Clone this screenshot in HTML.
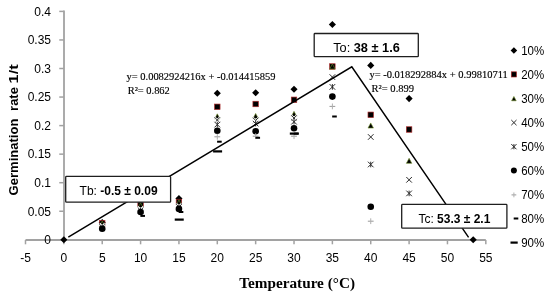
<!DOCTYPE html><html><head><meta charset="utf-8"><style>
html,body{margin:0;padding:0;background:#fff;width:550px;height:294px;overflow:hidden}
svg{display:block}
.t{font-family:"Liberation Sans",sans-serif;font-size:12px;fill:#000}
.eq{font-family:"Liberation Serif",serif;font-size:10.4px;fill:#000;stroke:#000;stroke-width:0.15px}
</style></head><body>
<svg width="550" height="294" viewBox="0 0 550 294">
<line x1="64" y1="10.6" x2="64" y2="240" stroke="#a2a2a2" stroke-width="1.8"/>
<line x1="25.5" y1="240" x2="485.82" y2="240" stroke="#a2a2a2" stroke-width="1.8"/>
<line x1="59.26" y1="239.80" x2="63.86" y2="239.80" stroke="#a2a2a2" stroke-width="1.5"/>
<text class="t" x="51" y="244.10" text-anchor="end">0</text>
<line x1="59.26" y1="211.25" x2="63.86" y2="211.25" stroke="#a2a2a2" stroke-width="1.5"/>
<text class="t" x="51" y="215.55" text-anchor="end">0.05</text>
<line x1="59.26" y1="182.70" x2="63.86" y2="182.70" stroke="#a2a2a2" stroke-width="1.5"/>
<text class="t" x="51" y="187.00" text-anchor="end">0.1</text>
<line x1="59.26" y1="154.15" x2="63.86" y2="154.15" stroke="#a2a2a2" stroke-width="1.5"/>
<text class="t" x="51" y="158.45" text-anchor="end">0.15</text>
<line x1="59.26" y1="125.60" x2="63.86" y2="125.60" stroke="#a2a2a2" stroke-width="1.5"/>
<text class="t" x="51" y="129.90" text-anchor="end">0.2</text>
<line x1="59.26" y1="97.05" x2="63.86" y2="97.05" stroke="#a2a2a2" stroke-width="1.5"/>
<text class="t" x="51" y="101.35" text-anchor="end">0.25</text>
<line x1="59.26" y1="68.50" x2="63.86" y2="68.50" stroke="#a2a2a2" stroke-width="1.5"/>
<text class="t" x="51" y="72.80" text-anchor="end">0.3</text>
<line x1="59.26" y1="39.95" x2="63.86" y2="39.95" stroke="#a2a2a2" stroke-width="1.5"/>
<text class="t" x="51" y="44.25" text-anchor="end">0.35</text>
<line x1="59.26" y1="11.40" x2="63.86" y2="11.40" stroke="#a2a2a2" stroke-width="1.5"/>
<text class="t" x="51" y="15.70" text-anchor="end">0.4</text>
<line x1="25.50" y1="240" x2="25.50" y2="244.3" stroke="#a2a2a2" stroke-width="1.5"/>
<text class="t" x="25.50" y="261.6" text-anchor="middle">-5</text>
<line x1="63.86" y1="240" x2="63.86" y2="244.3" stroke="#a2a2a2" stroke-width="1.5"/>
<text class="t" x="63.86" y="261.6" text-anchor="middle">0</text>
<line x1="102.22" y1="240" x2="102.22" y2="244.3" stroke="#a2a2a2" stroke-width="1.5"/>
<text class="t" x="102.22" y="261.6" text-anchor="middle">5</text>
<line x1="140.58" y1="240" x2="140.58" y2="244.3" stroke="#a2a2a2" stroke-width="1.5"/>
<text class="t" x="140.58" y="261.6" text-anchor="middle">10</text>
<line x1="178.94" y1="240" x2="178.94" y2="244.3" stroke="#a2a2a2" stroke-width="1.5"/>
<text class="t" x="178.94" y="261.6" text-anchor="middle">15</text>
<line x1="217.30" y1="240" x2="217.30" y2="244.3" stroke="#a2a2a2" stroke-width="1.5"/>
<text class="t" x="217.30" y="261.6" text-anchor="middle">20</text>
<line x1="255.66" y1="240" x2="255.66" y2="244.3" stroke="#a2a2a2" stroke-width="1.5"/>
<text class="t" x="255.66" y="261.6" text-anchor="middle">25</text>
<line x1="294.02" y1="240" x2="294.02" y2="244.3" stroke="#a2a2a2" stroke-width="1.5"/>
<text class="t" x="294.02" y="261.6" text-anchor="middle">30</text>
<line x1="332.38" y1="240" x2="332.38" y2="244.3" stroke="#a2a2a2" stroke-width="1.5"/>
<text class="t" x="332.38" y="261.6" text-anchor="middle">35</text>
<line x1="370.74" y1="240" x2="370.74" y2="244.3" stroke="#a2a2a2" stroke-width="1.5"/>
<text class="t" x="370.74" y="261.6" text-anchor="middle">40</text>
<line x1="409.10" y1="240" x2="409.10" y2="244.3" stroke="#a2a2a2" stroke-width="1.5"/>
<text class="t" x="409.10" y="261.6" text-anchor="middle">45</text>
<line x1="447.46" y1="240" x2="447.46" y2="244.3" stroke="#a2a2a2" stroke-width="1.5"/>
<text class="t" x="447.46" y="261.6" text-anchor="middle">50</text>
<line x1="485.82" y1="240" x2="485.82" y2="244.3" stroke="#a2a2a2" stroke-width="1.5"/>
<text class="t" x="485.82" y="261.6" text-anchor="middle">55</text>
<path d="M102.22,219.05L105.77,222.60L102.22,226.15L98.67,222.60Z" fill="#000"/>
<path d="M140.58,186.45L144.13,190.00L140.58,193.55L137.03,190.00Z" fill="#000"/>
<path d="M178.94,194.95L182.49,198.50L178.94,202.05L175.39,198.50Z" fill="#000"/>
<path d="M217.30,89.65L220.85,93.20L217.30,96.75L213.75,93.20Z" fill="#000"/>
<path d="M255.66,89.25L259.21,92.80L255.66,96.35L252.11,92.80Z" fill="#000"/>
<path d="M294.02,85.65L297.57,89.20L294.02,92.75L290.47,89.20Z" fill="#000"/>
<path d="M332.38,20.95L335.93,24.50L332.38,28.05L328.83,24.50Z" fill="#000"/>
<path d="M370.74,61.85L374.29,65.40L370.74,68.95L367.19,65.40Z" fill="#000"/>
<path d="M409.10,95.05L412.65,98.60L409.10,102.15L405.55,98.60Z" fill="#000"/>
<rect x="99.47" y="220.65" width="5.5" height="5.5" fill="#000" stroke="#b02a2a" stroke-width="0.65"/>
<rect x="137.83" y="200.75" width="5.5" height="5.5" fill="#000" stroke="#b02a2a" stroke-width="0.65"/>
<rect x="176.19" y="199.25" width="5.5" height="5.5" fill="#000" stroke="#b02a2a" stroke-width="0.65"/>
<rect x="214.55" y="104.05" width="5.5" height="5.5" fill="#000" stroke="#b02a2a" stroke-width="0.65"/>
<rect x="252.91" y="101.25" width="5.5" height="5.5" fill="#000" stroke="#b02a2a" stroke-width="0.65"/>
<rect x="291.27" y="97.05" width="5.5" height="5.5" fill="#000" stroke="#b02a2a" stroke-width="0.65"/>
<rect x="329.63" y="63.75" width="5.5" height="5.5" fill="#000" stroke="#b02a2a" stroke-width="0.65"/>
<rect x="367.99" y="112.05" width="5.5" height="5.5" fill="#000" stroke="#b02a2a" stroke-width="0.65"/>
<rect x="406.35" y="126.75" width="5.5" height="5.5" fill="#000" stroke="#b02a2a" stroke-width="0.65"/>
<path d="M102.22,221.03L104.92,226.16L99.52,226.16Z" fill="#000" stroke="#6f8f2a" stroke-width="0.6"/>
<path d="M140.58,202.94L143.28,208.06L137.88,208.06Z" fill="#000" stroke="#6f8f2a" stroke-width="0.6"/>
<path d="M178.94,199.94L181.64,205.06L176.24,205.06Z" fill="#000" stroke="#6f8f2a" stroke-width="0.6"/>
<path d="M217.30,113.84L220.00,118.97L214.60,118.97Z" fill="#000" stroke="#6f8f2a" stroke-width="0.6"/>
<path d="M255.66,113.44L258.36,118.56L252.96,118.56Z" fill="#000" stroke="#6f8f2a" stroke-width="0.6"/>
<path d="M294.02,111.34L296.72,116.47L291.32,116.47Z" fill="#000" stroke="#6f8f2a" stroke-width="0.6"/>
<path d="M332.38,63.94L335.08,69.06L329.68,69.06Z" fill="#000" stroke="#6f8f2a" stroke-width="0.6"/>
<path d="M370.74,122.94L373.44,128.06L368.04,128.06Z" fill="#000" stroke="#6f8f2a" stroke-width="0.6"/>
<path d="M409.10,158.24L411.80,163.37L406.40,163.37Z" fill="#000" stroke="#6f8f2a" stroke-width="0.6"/>
<path d="M99.42,223.50L105.02,229.10M105.02,223.50L99.42,229.10" stroke="#fff" stroke-width="2.0"/><path d="M99.42,223.50L105.02,229.10M105.02,223.50L99.42,229.10" stroke="#2a2a2a" stroke-width="1"/>
<path d="M137.78,206.80L143.38,212.40M143.38,206.80L137.78,212.40" stroke="#fff" stroke-width="2.0"/><path d="M137.78,206.80L143.38,212.40M143.38,206.80L137.78,212.40" stroke="#2a2a2a" stroke-width="1"/>
<path d="M176.14,203.60L181.74,209.20M181.74,203.60L176.14,209.20" stroke="#fff" stroke-width="2.0"/><path d="M176.14,203.60L181.74,209.20M181.74,203.60L176.14,209.20" stroke="#2a2a2a" stroke-width="1"/>
<path d="M214.50,117.20L220.10,122.80M220.10,117.20L214.50,122.80" stroke="#fff" stroke-width="2.0"/><path d="M214.50,117.20L220.10,122.80M220.10,117.20L214.50,122.80" stroke="#2a2a2a" stroke-width="1"/>
<path d="M252.86,117.60L258.46,123.20M258.46,117.60L252.86,123.20" stroke="#fff" stroke-width="2.0"/><path d="M252.86,117.60L258.46,123.20M258.46,117.60L252.86,123.20" stroke="#2a2a2a" stroke-width="1"/>
<path d="M291.22,115.30L296.82,120.90M296.82,115.30L291.22,120.90" stroke="#fff" stroke-width="2.0"/><path d="M291.22,115.30L296.82,120.90M296.82,115.30L291.22,120.90" stroke="#2a2a2a" stroke-width="1"/>
<path d="M329.58,74.30L335.18,79.90M335.18,74.30L329.58,79.90" stroke="#fff" stroke-width="2.0"/><path d="M329.58,74.30L335.18,79.90M335.18,74.30L329.58,79.90" stroke="#2a2a2a" stroke-width="1"/>
<path d="M367.94,134.20L373.54,139.80M373.54,134.20L367.94,139.80" stroke="#fff" stroke-width="2.0"/><path d="M367.94,134.20L373.54,139.80M373.54,134.20L367.94,139.80" stroke="#2a2a2a" stroke-width="1"/>
<path d="M406.30,177.00L411.90,182.60M411.90,177.00L406.30,182.60" stroke="#fff" stroke-width="2.0"/><path d="M406.30,177.00L411.90,182.60M411.90,177.00L406.30,182.60" stroke="#2a2a2a" stroke-width="1"/>
<path d="M99.42,224.20L105.02,229.80M105.02,224.20L99.42,229.80M102.22,224.20L102.22,229.80" stroke="#fff" stroke-width="2.0"/><path d="M99.42,224.20L105.02,229.80M105.02,224.20L99.42,229.80M102.22,224.20L102.22,229.80" stroke="#2a2a2a" stroke-width="1"/>
<path d="M137.78,207.50L143.38,213.10M143.38,207.50L137.78,213.10M140.58,207.50L140.58,213.10" stroke="#fff" stroke-width="2.0"/><path d="M137.78,207.50L143.38,213.10M143.38,207.50L137.78,213.10M140.58,207.50L140.58,213.10" stroke="#2a2a2a" stroke-width="1"/>
<path d="M176.14,204.20L181.74,209.80M181.74,204.20L176.14,209.80M178.94,204.20L178.94,209.80" stroke="#fff" stroke-width="2.0"/><path d="M176.14,204.20L181.74,209.80M181.74,204.20L176.14,209.80M178.94,204.20L178.94,209.80" stroke="#2a2a2a" stroke-width="1"/>
<path d="M214.50,121.80L220.10,127.40M220.10,121.80L214.50,127.40M217.30,121.80L217.30,127.40" stroke="#fff" stroke-width="2.0"/><path d="M214.50,121.80L220.10,127.40M220.10,121.80L214.50,127.40M217.30,121.80L217.30,127.40" stroke="#2a2a2a" stroke-width="1"/>
<path d="M252.86,120.80L258.46,126.40M258.46,120.80L252.86,126.40M255.66,120.80L255.66,126.40" stroke="#fff" stroke-width="2.0"/><path d="M252.86,120.80L258.46,126.40M258.46,120.80L252.86,126.40M255.66,120.80L255.66,126.40" stroke="#2a2a2a" stroke-width="1"/>
<path d="M291.22,118.90L296.82,124.50M296.82,118.90L291.22,124.50M294.02,118.90L294.02,124.50" stroke="#fff" stroke-width="2.0"/><path d="M291.22,118.90L296.82,124.50M296.82,118.90L291.22,124.50M294.02,118.90L294.02,124.50" stroke="#2a2a2a" stroke-width="1"/>
<path d="M329.58,84.10L335.18,89.70M335.18,84.10L329.58,89.70M332.38,84.10L332.38,89.70" stroke="#fff" stroke-width="2.0"/><path d="M329.58,84.10L335.18,89.70M335.18,84.10L329.58,89.70M332.38,84.10L332.38,89.70" stroke="#2a2a2a" stroke-width="1"/>
<path d="M367.94,161.70L373.54,167.30M373.54,161.70L367.94,167.30M370.74,161.70L370.74,167.30" stroke="#fff" stroke-width="2.0"/><path d="M367.94,161.70L373.54,167.30M373.54,161.70L367.94,167.30M370.74,161.70L370.74,167.30" stroke="#2a2a2a" stroke-width="1"/>
<path d="M406.30,190.60L411.90,196.20M411.90,190.60L406.30,196.20M409.10,190.60L409.10,196.20" stroke="#fff" stroke-width="2.0"/><path d="M406.30,190.60L411.90,196.20M411.90,190.60L406.30,196.20M409.10,190.60L409.10,196.20" stroke="#2a2a2a" stroke-width="1"/>
<circle cx="102.22" cy="228.80" r="3.3" fill="#000"/>
<circle cx="140.58" cy="212.00" r="3.3" fill="#000"/>
<circle cx="178.94" cy="208.90" r="3.3" fill="#000"/>
<circle cx="217.30" cy="130.70" r="3.3" fill="#000"/>
<circle cx="255.66" cy="131.30" r="3.3" fill="#000"/>
<circle cx="294.02" cy="128.20" r="3.3" fill="#000"/>
<circle cx="332.38" cy="96.60" r="3.3" fill="#000"/>
<circle cx="370.74" cy="206.70" r="3.3" fill="#000"/>
<path d="M214.40,136.80L220.20,136.80" stroke="#999" stroke-width="1"/><path d="M217.30,133.90L217.30,139.70" stroke="#b0b0b0" stroke-width="1"/>
<path d="M252.76,136.20L258.56,136.20" stroke="#999" stroke-width="1"/><path d="M255.66,133.30L255.66,139.10" stroke="#b0b0b0" stroke-width="1"/>
<path d="M291.12,136.20L296.92,136.20" stroke="#999" stroke-width="1"/><path d="M294.02,133.30L294.02,139.10" stroke="#b0b0b0" stroke-width="1"/>
<path d="M329.48,106.40L335.28,106.40" stroke="#999" stroke-width="1"/><path d="M332.38,103.50L332.38,109.30" stroke="#b0b0b0" stroke-width="1"/>
<path d="M367.84,221.20L373.64,221.20" stroke="#999" stroke-width="1"/><path d="M370.74,218.30L370.74,224.10" stroke="#b0b0b0" stroke-width="1"/>
<rect x="140.38" y="214.90" width="4.6" height="2" fill="#000"/>
<rect x="178.74" y="211.00" width="4.6" height="2" fill="#000"/>
<rect x="217.10" y="140.70" width="4.6" height="2" fill="#000"/>
<rect x="255.46" y="136.80" width="4.6" height="2" fill="#000"/>
<rect x="293.82" y="132.60" width="4.6" height="2" fill="#000"/>
<rect x="332.18" y="115.50" width="4.6" height="2" fill="#000"/>
<rect x="174.74" y="218.50" width="9" height="2.2" fill="#000"/>
<rect x="213.10" y="150.30" width="9" height="2.2" fill="#000"/>
<rect x="289.82" y="132.50" width="9" height="2.2" fill="#000"/>
<polyline points="68.3,237.1 351.8,66.8 468.6,237.3" fill="none" stroke="#000" stroke-width="1.45"/>
<path d="M63.86,236.25L67.41,239.80L63.86,243.35L60.31,239.80Z" fill="#000"/>
<path d="M473.20,236.25L476.75,239.80L473.20,243.35L469.65,239.80Z" fill="#000"/>
<text class="eq" x="126.5" y="80.3" textLength="149" lengthAdjust="spacingAndGlyphs">y= 0.0082924216x + -0.014415859</text>
<text class="eq" x="127.8" y="94.2" textLength="42" lengthAdjust="spacingAndGlyphs">R²= 0.862</text>
<text class="eq" x="369.4" y="78.4" textLength="138.4" lengthAdjust="spacingAndGlyphs">y= -0.018292884x + 0.99810711</text>
<text class="eq" x="371.6" y="92" textLength="42.5" lengthAdjust="spacingAndGlyphs">R²= 0.899</text>
<rect x="65.7" y="176.4" width="104.89999999999999" height="25.799999999999983" rx="0.8" fill="#fff" stroke="#1e1e1e" stroke-width="1.3"/>
<text class="t" x="79.6" y="194.5">Tb: <tspan font-weight="bold">-0.5 ± 0.09</tspan></text>
<rect x="314.2" y="33.5" width="104.10000000000002" height="23.200000000000003" rx="0.8" fill="#fff" stroke="#1e1e1e" stroke-width="1.3"/>
<text class="t" x="333.2" y="52.0" textLength="66.6" lengthAdjust="spacingAndGlyphs">To: <tspan font-weight="bold">38 ± 1.6</tspan></text>
<rect x="401.7" y="204.4" width="105.19999999999999" height="23.799999999999983" rx="0.8" fill="#fff" stroke="#1e1e1e" stroke-width="1.3"/>
<text class="t" x="418.4" y="222.8">Tc: <tspan font-weight="bold">53.3 ± 2.1</tspan></text>
<path d="M513.90,47.20L517.20,50.50L513.90,53.80L510.60,50.50Z" fill="#000"/>
<text class="t" x="521.2" y="54.80" textLength="23" lengthAdjust="spacingAndGlyphs">10%</text>
<rect x="511.30" y="71.80" width="5.2" height="5.2" fill="#000" stroke="#b02a2a" stroke-width="0.65"/>
<text class="t" x="521.2" y="78.70" textLength="23" lengthAdjust="spacingAndGlyphs">20%</text>
<path d="M513.90,96.41L516.20,100.78L511.60,100.78Z" fill="#000" stroke="#6f8f2a" stroke-width="0.6"/>
<text class="t" x="521.2" y="102.90" textLength="23" lengthAdjust="spacingAndGlyphs">30%</text>
<path d="M511.30,120.00L516.50,125.20M516.50,120.00L511.30,125.20" stroke="#2a2a2a" stroke-width="1"/>
<text class="t" x="521.2" y="126.90" textLength="23" lengthAdjust="spacingAndGlyphs">40%</text>
<path d="M511.30,144.10L516.50,149.30M516.50,144.10L511.30,149.30M513.90,144.10L513.90,149.30" stroke="#2a2a2a" stroke-width="1"/>
<text class="t" x="521.2" y="151.00" textLength="23" lengthAdjust="spacingAndGlyphs">50%</text>
<circle cx="513.90" cy="170.40" r="3.0" fill="#000"/>
<text class="t" x="521.2" y="174.70" textLength="23" lengthAdjust="spacingAndGlyphs">60%</text>
<path d="M511.50,194.90L516.30,194.90" stroke="#999" stroke-width="1"/><path d="M513.90,192.50L513.90,197.30" stroke="#b0b0b0" stroke-width="1"/>
<text class="t" x="521.2" y="199.20" textLength="23" lengthAdjust="spacingAndGlyphs">70%</text>
<rect x="513.70" y="217.50" width="4.6" height="2" fill="#000"/>
<text class="t" x="521.2" y="222.80" textLength="23" lengthAdjust="spacingAndGlyphs">80%</text>
<rect x="510.50" y="241.50" width="7.2" height="2.2" fill="#000"/>
<text class="t" x="521.2" y="246.90" textLength="23" lengthAdjust="spacingAndGlyphs">90%</text>
<text x="239.2" y="288.4" textLength="115.8" lengthAdjust="spacingAndGlyphs" style="font-family:'Liberation Serif',serif;font-weight:bold;font-size:15.2px;fill:#000">Temperature (°C)</text>
<text transform="translate(17.6,195.4) rotate(-90)" style="font-family:'Liberation Sans',sans-serif;font-weight:bold;font-size:12.2px;fill:#000" textLength="76.8" lengthAdjust="spacingAndGlyphs">Germination</text>
<text transform="translate(17.6,110.9) rotate(-90)" style="font-family:'Liberation Sans',sans-serif;font-weight:bold;font-size:12.2px;fill:#000" textLength="23.8" lengthAdjust="spacingAndGlyphs">rate</text>
<text transform="translate(17.6,83.4) rotate(-90)" style="font-family:'Liberation Sans',sans-serif;font-weight:bold;font-size:12.2px;fill:#000" textLength="19.0" lengthAdjust="spacingAndGlyphs">1/t</text>
</svg></body></html>
